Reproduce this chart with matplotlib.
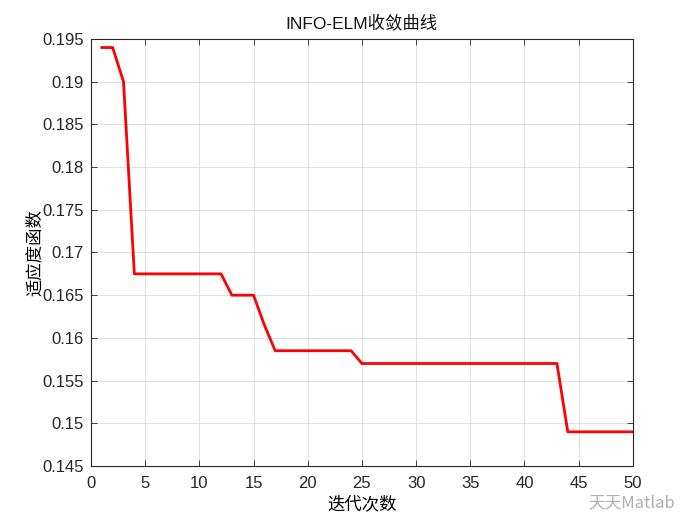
import matplotlib
matplotlib.use('Agg')
import matplotlib.pyplot as plt

plt.rcParams['font.family'] = ['Liberation Sans', 'Noto Sans CJK SC', 'DejaVu Sans']

iterations = list(range(1, 51))
fitness = ([0.194, 0.194, 0.190] + [0.1675] * 9 + [0.165] * 3 + [0.1615]
           + [0.1585] * 8 + [0.157] * 19 + [0.149] * 7)

fig = plt.figure(figsize=(7, 5.25), dpi=100)
ax = fig.add_axes([0.13, 0.1124, 0.774, 0.8133])

ax.plot(iterations, fitness, color='red', linewidth=2)

ax.set_xlim(0, 50)
ax.set_ylim(0.145, 0.195)
ax.set_xticks(range(0, 51, 5))
ax.set_yticks([0.145, 0.15, 0.155, 0.16, 0.165, 0.17, 0.175, 0.18, 0.185, 0.19, 0.195])
ax.set_yticklabels(['0.145', '0.15', '0.155', '0.16', '0.165', '0.17', '0.175',
                    '0.18', '0.185', '0.19', '0.195'])
ax.tick_params(direction='in', top=True, right=True, labelsize=12, length=4,
               width=0.6, color='#262626', labelcolor='#262626')
ax.tick_params(axis='x', pad=7)
ax.tick_params(axis='y', pad=5)
ax.grid(True, color='#dcdcdc', linewidth=0.6)
for s in ax.spines.values():
    s.set_color('#262626')
    s.set_linewidth(0.8)

ax.set_title('INFO-ELM收敛曲线', fontsize=12.5, color='#111111', pad=7)
ax.set_xlabel('迭代次数', fontsize=12.5, family=['Noto Sans CJK SC'], labelpad=3)
ax.set_ylabel('适应度函数', fontsize=12.5, family=['Noto Sans CJK SC'], labelpad=-1)

# watermark, nudged just below the tick labels
fig.text(0.84, 0.042, '天天Matlab', fontsize=12, color='#b0b0b0', va='center',
         family=['Noto Sans CJK SC', 'DejaVu Sans'])

fig.savefig('out.png', dpi=100)
